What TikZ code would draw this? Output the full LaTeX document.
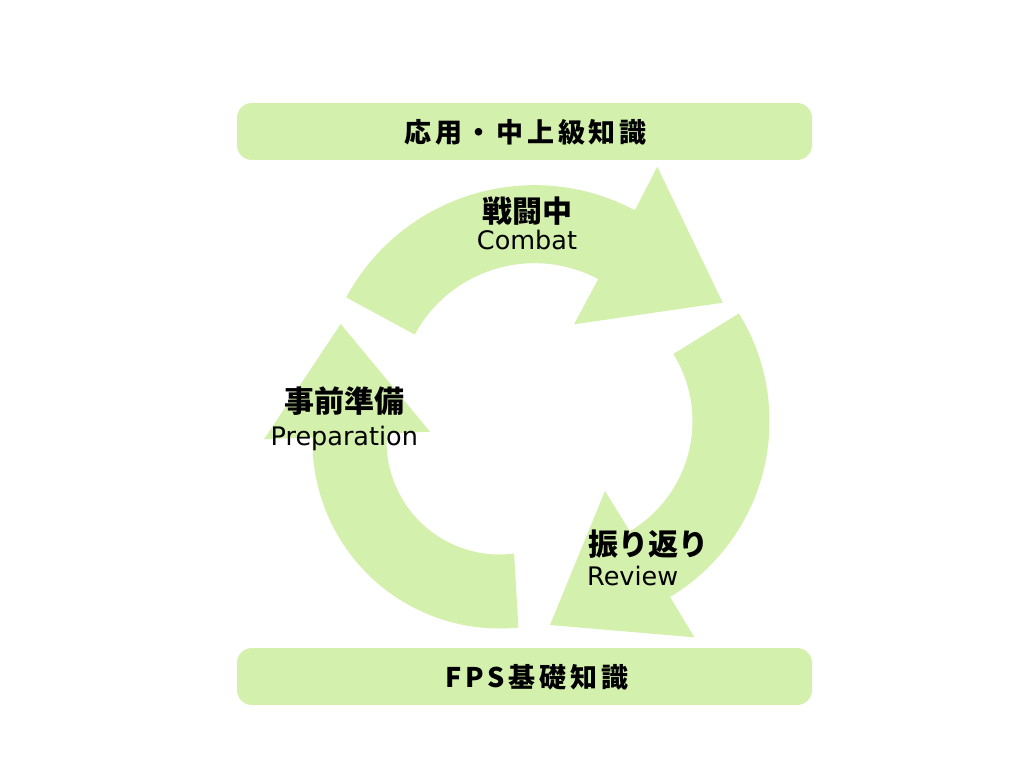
\documentclass[tikz,border=0pt]{standalone}
\usepackage{fontspec}
\newfontfamily\jpfont{Noto Sans CJK JP}
\newfontfamily\latfont{DejaVu Sans}
\usetikzlibrary{calc}
\definecolor{lg}{RGB}{211,240,173}
\tikzset{
  arrowfill/.style={fill=lg, draw=none},
  barbox/.style={fill=lg, draw=none, rounded corners=15pt, minimum width=575pt, minimum height=57pt, inner sep=0pt},
  bartext/.style={inner sep=0pt, font=\jpfont\bfseries\fontsize{27}{30}\selectfont\addfontfeature{LetterSpace=14}},
  kanjilabel/.style={inner sep=0pt, font=\jpfont\bfseries\fontsize{30}{32}\selectfont},
  latinlabel/.style={inner sep=0pt, font=\latfont\fontsize{25.5}{28}\selectfont},
}
\begin{document}
\begin{tikzpicture}[x=1pt,y=1pt]
\useasboundingbox[fill=white] (0,0) rectangle (1024,768);
\coordinate (C1) at (534.4,368.8);
\coordinate (C2) at (564.5,346.8);
\coordinate (C3) at (499.5,326.5);

% bars
\node[barbox] (topbar) at (524.5,636.5) {};
\node[bartext] (toptext) at (525.5,636) {応用・中上級知識};
\node[barbox] (botbar) at (524.5,91.5) {};
\node[bartext] (bottext) at (537,91) {FPS基礎知識};

% top arrow (Combat)
\coordinate (t1) at (657.3,601.3);
\coordinate (t2) at (722.7,465.3);
\coordinate (t3) at (574,443.7);
\fill[arrowfill] ($(C1)+(151.6:214)$) arc[start angle=151.6, end angle=62, radius=214]
  -- (t1) -- (t2) -- (t3) -- ($(C1)+(62:136)$) arc[start angle=62, end angle=151.6, radius=136] -- cycle;

% right arrow (Review)
\coordinate (r1) at (694.3,130.7);
\coordinate (r2) at (550,143);
\coordinate (r3) at (605,277);
\fill[arrowfill] ($(C2)+(31.7:205)$) arc[start angle=31.7, end angle=-59, radius=205]
  -- (r1) -- (r2) -- (r3) -- ($(C2)+(-59.3:128)$) arc[start angle=-59.3, end angle=31.7, radius=128] -- cycle;

% left arrow (Preparation)
\coordinate (l1) at (264,328.7);
\coordinate (l2) at (340.7,444);
\coordinate (l3) at (430,336.3);
\fill[arrowfill] ($(C3)+(-84.2:187)$) arc[start angle=-84.2, end angle=-181.3, radius=187]
  -- (l1) -- (l2) -- (l3) -- ($(C3)+(-184:113)$) arc[start angle=-184, end angle=-82.6, radius=113] -- cycle;

% labels
\node[kanjilabel] (combatjp) at (527,557) {戦闘中};
\node[latinlabel, anchor=base] (combaten) at (527,518) {Combat};
\node[kanjilabel] (prepjp) at (344.3,367.3) {事前準備};
\node[latinlabel, anchor=base] (prepen) at (344.3,322) {Preparation};
\node[kanjilabel, anchor=west] (revjp) at (588,224) {振り返り};
\node[latinlabel, anchor=base west] (reven) at (587,182) {Review};
\end{tikzpicture}
\end{document}
